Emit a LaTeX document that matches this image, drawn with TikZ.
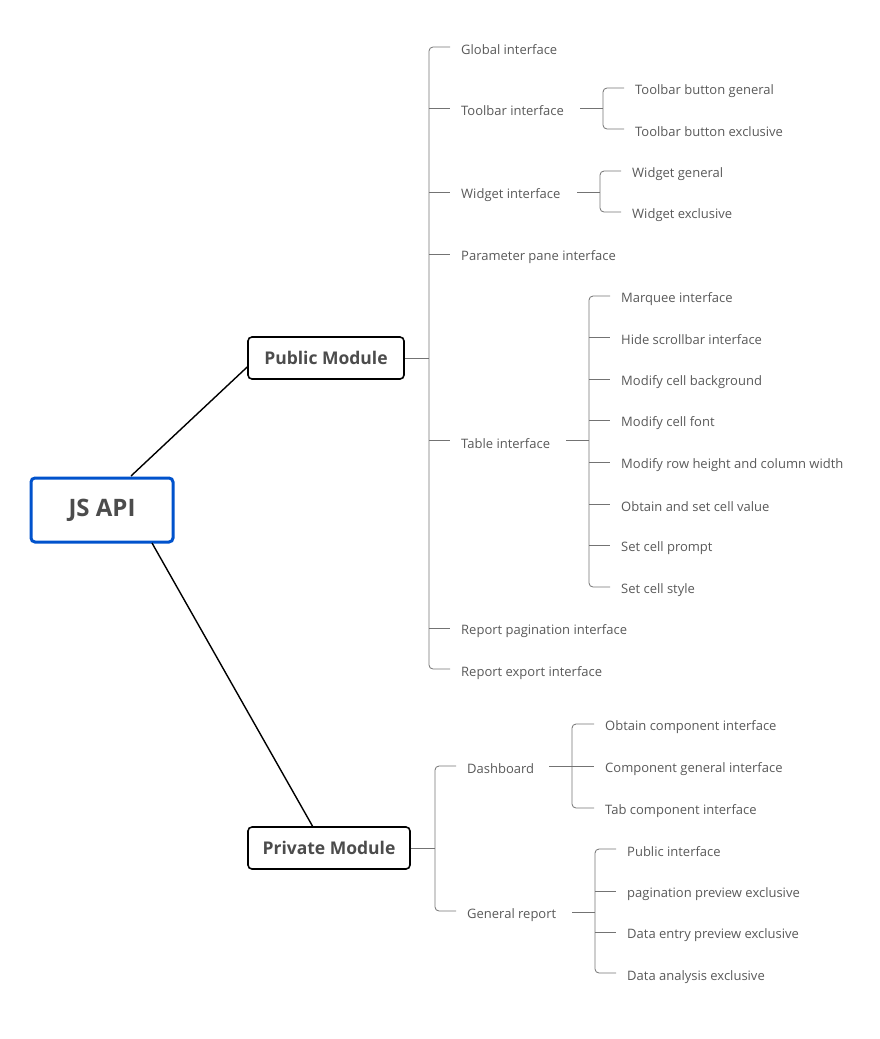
\documentclass[tikz,border=0pt]{standalone}
\usepackage{fontspec}
\setmainfont{Open Sans}
\begin{document}
\begin{tikzpicture}[x=1pt,y=-1pt,
  leaf/.style={anchor=west,inner xsep=11pt,inner ysep=2pt,font=\fontsize{13}{15}\selectfont,text=black!65},
  br/.style={draw=black!55,line width=0.8pt,rounded corners=4pt},
  mod/.style={draw=black,line width=1.6pt,rounded corners=4pt,fill=white,font=\bfseries\fontsize{17.5}{20}\selectfont,text=black!70,inner sep=0pt},
  link/.style={draw=black,line width=1.4pt}]
\useasboundingbox (0,0) rectangle (880,1039);
% root and modules
\node[draw=blue!60!cyan!80!black,line width=3pt,rounded corners=4pt,minimum width=142pt,minimum height=64pt,font=\bfseries\fontsize{24}{28}\selectfont,text=black!70] (root) at (102,510) {JS API};
\node[mod,minimum width=156pt,minimum height=42pt] (pub) at (326,358) {Public Module};
\node[mod,minimum width=162pt,minimum height=42pt] (priv) at (329,848) {Private Module};
\draw[link] (131,476) -- (pub.west |- 0,367);
\draw[link] (152,543) -- (313,827);
% helper macro for bracket
\newcommand{\bracket}[5]{% parent point, vx, list of name/y/text, top, bottom
}
% Public children
\foreach \n/\y/\t in {g/50/Global interface,tb/111/Toolbar interface,w/195/Widget interface,pp/257/Parameter pane interface,t/444/Table interface,rp/631/Report pagination interface,re/673/Report export interface}
  \node[leaf] (\n) at (450,\y) {\t};
\draw[br] (pub.east) -- (429,358);
\draw[br] (g.west|-0,47) -- (429,47) -- (429,669) -- (re.west|-0,669);
\foreach \n/\y in {tb/108,w/192,pp/254,t/440,rp/628} \draw[br] (429,\y) -- (\n.west|-0,\y);
% Toolbar sub
\foreach \n/\y/\t in {tb1/91/Toolbar button general,tb2/132/Toolbar button exclusive}
  \node[leaf] (\n) at (624,\y) {\t};
\draw[br] (580,108) -- (603,108);
\draw[br] (tb1.west|-0,88) -- (603,88) -- (603,129) -- (tb2.west|-0,129);
% Widget sub
\foreach \n/\y/\t in {w1/174/Widget general,w2/215/Widget exclusive}
  \node[leaf] (\n) at (621,\y) {\t};
\draw[br] (577,192) -- (600,192);
\draw[br] (w1.west|-0,171) -- (600,171) -- (600,212) -- (w2.west|-0,212);
% Table sub
\foreach \n/\y/\t in {t1/299/Marquee interface,t2/340/Hide scrollbar interface,t3/382/Modify cell background,t4/423/Modify cell font,t5/465/Modify row height and column width,t6/507/Obtain and set cell value,t7/548/Set cell prompt,t8/590/Set cell style}
  \node[leaf] (\n) at (610,\y) {\t};
\draw[br] (566,440) -- (589,440);
\draw[br] (t1.west|-0,296) -- (589,296) -- (589,587) -- (t8.west|-0,587);
\foreach \n/\y in {t2/337,t3/379,t4/420,t5/462,t6/504,t7/545} \draw[br] (589,\y) -- (\n.west|-0,\y);
% Private children
\foreach \n/\y/\t in {d/769/Dashboard,gr/915/General report}
  \node[leaf] (\n) at (456,\y) {\t};
\draw[br] (priv.east) -- (435,848);
\draw[br] (d.west|-0,766) -- (435,766) -- (435,911) -- (gr.west|-0,911);
% Dashboard sub
\foreach \n/\y/\t in {d1/727/Obtain component interface,d2/769/Component general interface,d3/811/Tab component interface}
  \node[leaf] (\n) at (594,\y) {\t};
\draw[br] (549,766) -- (572,766);
\draw[br] (d1.west|-0,724) -- (572,724) -- (572,808) -- (d3.west|-0,808);
\draw[br] (572,766) -- (d2.west|-0,766);
% General report sub
\foreach \n/\y/\t in {r1/852/Public interface,r2/894/pagination preview exclusive,r3/935/Data entry preview exclusive,r4/977/Data analysis exclusive}
  \node[leaf] (\n) at (616,\y) {\t};
\draw[br] (572,912) -- (595,912);
\draw[br] (r1.west|-0,849) -- (595,849) -- (595,973) -- (r4.west|-0,973);
\foreach \n/\y in {r2/891,r3/932} \draw[br] (595,\y) -- (\n.west|-0,\y);
\end{tikzpicture}
\end{document}
